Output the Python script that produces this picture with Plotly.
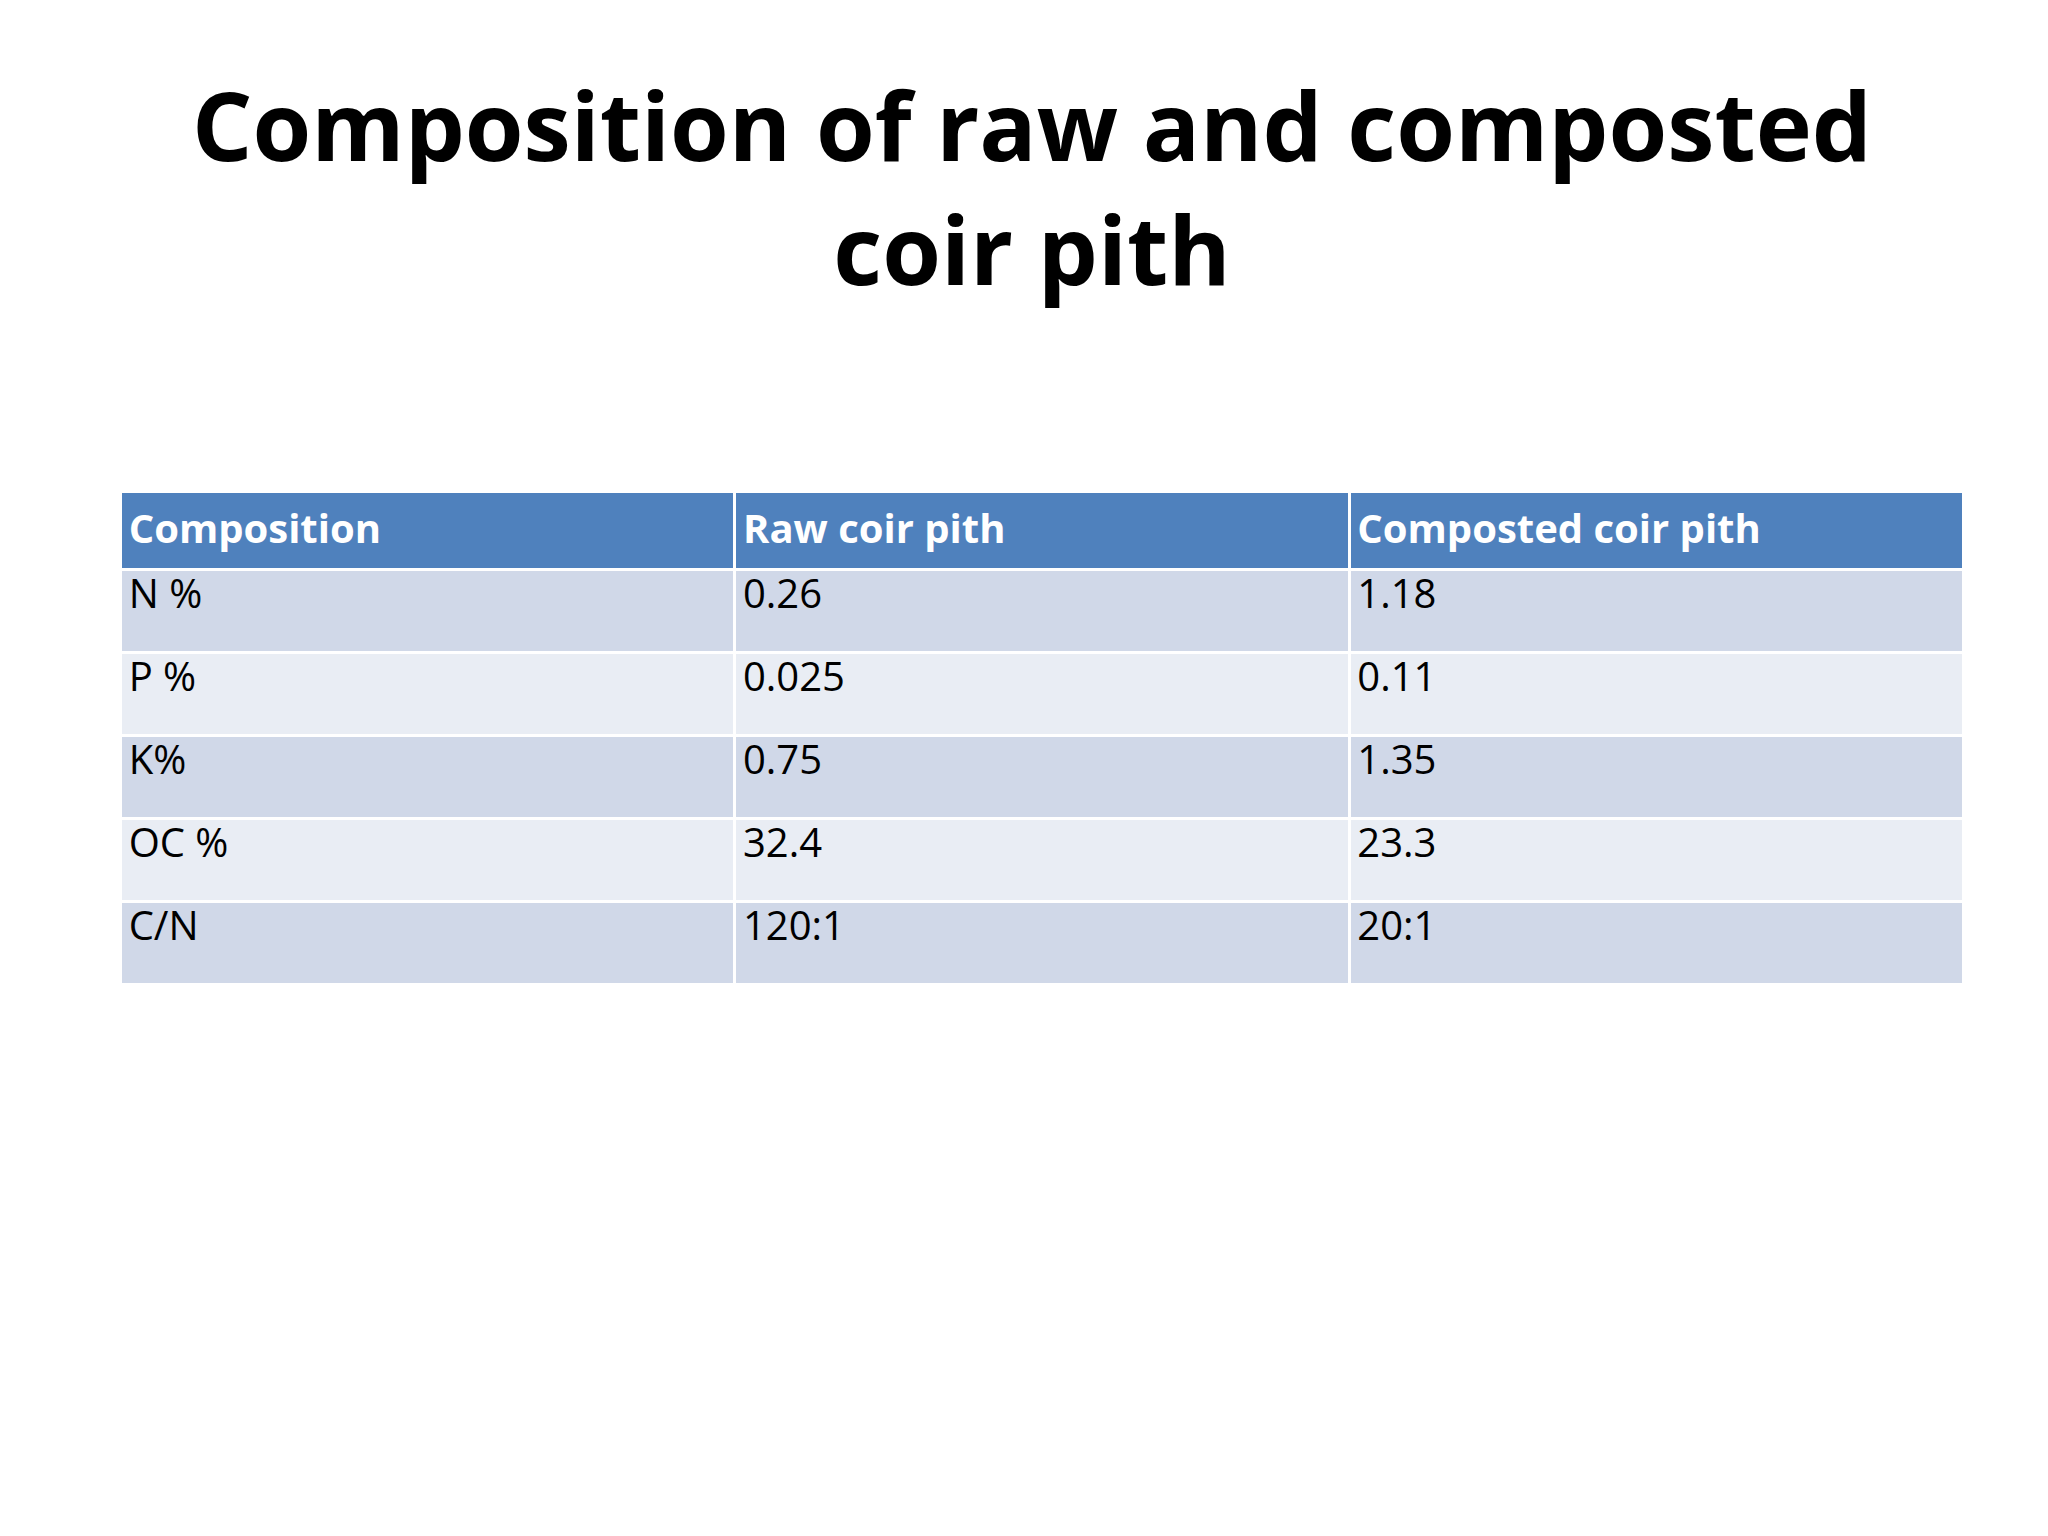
import plotly.graph_objects as go

title = "Composition of raw and composted<br>coir pith"
columns = ["Composition", "Raw coir pith", "Composted coir pith"]
composition = ["N %", "P %", "K%", "OC %", "C/N"]
raw_pith = ["0.26", "0.025", "0.75", "32.4", "120:1"]
composted_pith = ["1.18", "0.11", "1.35", "23.3", "20:1"]

row_colors = ["#D0D8E8" if i % 2 == 0 else "#E9EDF4" for i in range(len(composition))]

fig = go.Figure(go.Table(
    domain=dict(x=[0.055, 0.955], y=[0.30, 0.685]),
    columnwidth=[1, 1, 1],
    header=dict(
        values=["<b>" + c + "</b>" for c in columns],
        fill_color="#4F81BD",
        line=dict(color="white", width=3),
        font=dict(family="Open Sans", size=40, color="white"),
        align="left",
        height=78,
    ),
    cells=dict(
        values=[composition, raw_pith, composted_pith],
        fill_color=[row_colors] * 3,
        line=dict(color="white", width=3),
        font=dict(family="Open Sans", size=40, color="black"),
        align="left",
        height=83,
    ),
))

fig.add_annotation(
    text="<b>" + title + "</b>", x=0.5, y=0.968, xref="paper", yref="paper",
    xanchor="center", yanchor="top", showarrow=False,
    font=dict(family="Open Sans", size=95, color="black"),
)

fig.update_layout(
    width=2048, height=1536, margin=dict(l=0, r=0, t=0, b=0),
    paper_bgcolor="white", plot_bgcolor="white",
)

fig.write_html("out.html")
